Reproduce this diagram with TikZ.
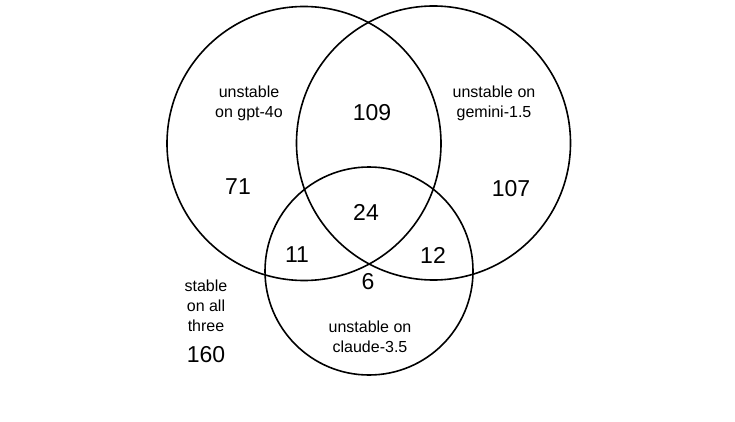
\documentclass[tikz,border=0pt]{standalone}
\usepackage{fontspec}
\setmainfont{Liberation Sans}
\begin{document}
\begin{tikzpicture}[x=1pt,y=-1pt,
  ring/.style={draw,line width=1.6pt},
  lab/.style={font=\fontsize{16}{20}\selectfont,align=center,inner sep=0pt},
  num/.style={font=\fontsize{23}{26}\selectfont,inner sep=0pt}]
\useasboundingbox (0,0) rectangle (735,422);
\draw[ring] (304,143.5) circle (137);
\draw[ring] (433.5,143) circle (137);
\draw[ring] (369,271) circle (104);
\node[lab] (g) at (249,103) {unstable\\on gpt-4o};
\node[lab] (m) at (494,103) {unstable on\\gemini-1.5};
\node[lab] (c) at (370,337) {unstable on\\claude-3.5};
\node[lab] (s) at (206,306) {stable\\on all\\three};
\node[num] (n160) at (206,355) {160};
\node[num] (n109) at (372,113) {109};
\node[num] (n71) at (238,187) {71};
\node[num] (n107) at (511,189) {107};
\node[num] (n24) at (366,212) {24};
\node[num] (n11) at (297,255) {11};
\node[num] (n12) at (433,255) {12};
\node[num] (n6) at (368,282) {6};
\end{tikzpicture}
\end{document}
